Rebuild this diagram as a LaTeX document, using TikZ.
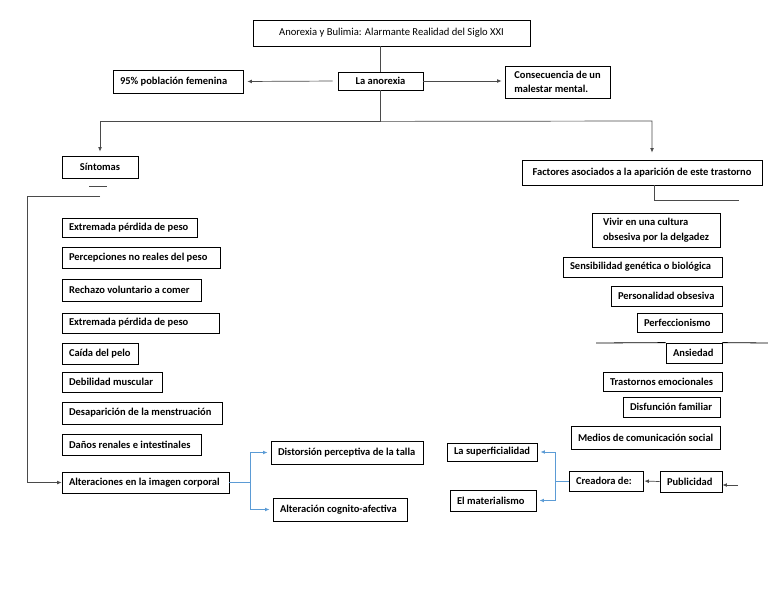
\documentclass[tikz,border=0pt]{standalone}
\usepackage{fontspec}
\setmainfont{Carlito}
\usetikzlibrary{arrows.meta,calc}
\definecolor{lineg}{HTML}{4A4A4A}
\definecolor{blueln}{HTML}{5B9BD5}
\newcommand\mybox[6]{\node[box,minimum width=#4pt,minimum height=#5pt] (#1) at (#2,#3) {\makebox[\dimexpr#4pt-14pt\relax][l]{#6}};}
\begin{document}
\begin{tikzpicture}[x=1pt,y=-1pt,
  box/.style={draw=black,line width=0.8pt,inner sep=1pt,font=\fontsize{10.5}{12.5}\selectfont\bfseries},
  plainbox/.style={box,font=\fontsize{10.6}{12.5}\selectfont},
  twol/.style={box,align=left,font=\fontsize{10.5}{14.5}\selectfont\bfseries},
  ln/.style={draw=lineg,line width=0.7pt},
  arr/.style={ln,-{Latex[length=4.5pt,width=3.8pt]}},
  barr/.style={draw=blueln,line width=0.9pt,-{Latex[length=4.5pt,width=3.8pt]}},
  bln/.style={draw=blueln,line width=0.9pt}]
\fill[white] (0,0) rectangle (768,594);
\useasboundingbox (0,0) rectangle (768,594);

% top
\node[plainbox,minimum width=277pt,minimum height=26pt] (title) at (391.5,33) {Anorexia y Bulimia: Alarmante Realidad del Siglo XXI};
\node[box,minimum width=85pt,minimum height=18pt] (anorexia) at (380.5,81) {La anorexia};
\mybox{fem}{178}{81.5}{130}{23}{95\% población femenina}
\node[twol,minimum width=105pt,minimum height=32pt] (cons) at (557.5,82) {Consecuencia de un\\malestar mental.};
\node[box,minimum width=76pt,minimum height=22pt] (sint) at (100,167) {Síntomas};
\node[box,minimum width=240pt,minimum height=25pt] (fact) at (642,172.5) {Factores asociados a la aparición de este trastorno};

% left column
\mybox{e1}{129.5}{227.5}{135}{19}{Extremada pérdida de peso}
\mybox{e2}{141}{257.5}{158}{21}{Percepciones no reales del peso}
\mybox{e3}{131.5}{290}{139}{22}{Rechazo voluntario a comer}
\mybox{e4}{140.5}{323}{157}{20}{Extremada pérdida de peso}
\mybox{e5}{100}{353.5}{76}{21}{Caída del pelo}
\mybox{e6}{112}{382}{100}{20}{Debilidad muscular}
\mybox{e7}{142}{413}{160}{22}{Desaparición de la menstruación}
\mybox{e8}{131.5}{444.5}{139}{21}{Daños renales e intestinales}
\mybox{e9}{145.5}{482.5}{167}{21}{Alteraciones en la imagen corporal}
\mybox{dist}{347}{452.5}{152}{23}{Distorsión perceptiva de la talla}
\mybox{cog}{340}{509.5}{134}{23}{Alteración cognito-afectiva}

% right column
\node[twol,minimum width=128pt,minimum height=34pt] (r1) at (656,230) {Vivir en una cultura\\obsesiva por la delgadez};
\mybox{r2}{642.5}{267}{159}{20}{Sensibilidad genética o biológica}
\mybox{r3}{666.5}{296}{111}{20}{Personalidad obsesiva}
\mybox{r4}{679.5}{322.5}{85}{19}{Perfeccionismo}
\mybox{r5}{694}{353}{56}{20}{Ansiedad}
\mybox{r6}{662.5}{381.5}{119}{19}{Trastornos emocionales}
\mybox{r7}{671.5}{407}{97}{20}{Disfunción familiar}
\mybox{r8}{645.5}{437.5}{149}{23}{Medios de comunicación social}
\mybox{sup}{492}{452}{90}{18}{La superficialidad}
\mybox{crea}{606}{481}{74}{20}{Creadora de:}
\mybox{pub}{691}{481.5}{62}{21}{Publicidad}
\mybox{mat}{493}{500.5}{86}{21}{El materialismo}

% connectors top
\draw[ln] (title.south -| anorexia.north) -- (anorexia.north);
\draw[arr,shorten <=5pt,shorten >=4pt] (anorexia.west) -- (fem.east);
\draw[arr,shorten >=3pt] (anorexia.east) -- (cons.west |- anorexia.east);
\draw[ln] (anorexia.south) -- ++(0,31) coordinate (hj);
\coordinate (fr) at (652,121);
\draw[arr,shorten >=4pt] (hj) -| (sint.north);
\draw[arr,shorten >=7pt] (hj) -- (fr) -- (fr |- fact.north);

% under sintomas
\coordinate (s1) at (89,186);
\coordinate (s2) at (107,186);
\draw[ln] (s1) -- (s2);
\coordinate (l0) at (100,196);
\coordinate (l1) at (27,196);
\draw[arr] (l0) -- (l1) |- (e9.west);

% alteraciones branches
\draw[bln] (e9.east) -- ++(21,0) coordinate (aj);
\draw[barr,shorten >=3pt] (aj) |- (dist.west);
\draw[barr,shorten >=3pt] (aj) |- (cog.west);

% under factores
\coordinate (f1) at ($(fact.south)+(12,0)$);
\draw[ln] (f1) -- ++(0,15) -- ++(85,0);

% ansiedad line
\coordinate (a1) at (596,343);
\coordinate (a2) at (768,343);
\draw[draw=black,line width=0.8pt] (a1) -- (r5.north west);
\draw[draw=black,line width=0.8pt] (r5.north east) -- (a2);

% publicidad
\coordinate (pin) at (738,485);
\draw[arr] (pin) -- (pin -| pub.east);
\draw[arr,shorten >=1pt] (pub.west) -- (crea.east);
\draw[bln] (crea.west) -- ++(-13,0) coordinate (cj);
\draw[barr,shorten >=3pt] (cj) |- (sup.east);
\draw[barr,shorten >=3pt] (cj) |- (mat.east);
\end{tikzpicture}
\end{document}
